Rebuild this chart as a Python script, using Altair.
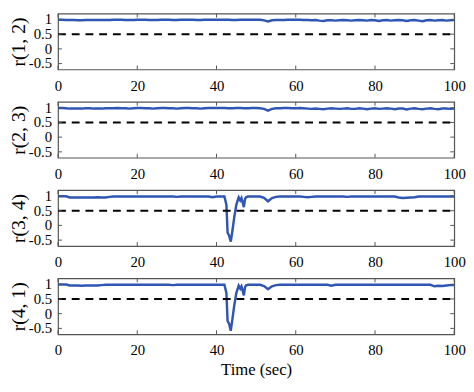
import altair as alt
import pandas as pd

# ---------------- data ----------------
t_full = list(range(0, 101))

r12 = [0.99, 0.99, 0.98, 0.98, 0.98, 0.97, 0.97, 0.98, 0.98, 0.98,
       0.98, 0.98, 0.98, 0.98, 0.99, 0.99, 0.99, 0.98, 0.98, 0.98,
       0.99, 0.99, 0.99, 0.98, 0.98, 0.98, 0.99, 0.99, 0.99, 0.98,
       0.98, 0.99, 0.99, 0.99, 0.99, 0.98, 0.98, 0.99, 0.99, 0.99,
       0.99, 0.99, 0.99, 0.99, 0.98, 0.98, 0.99, 0.99, 0.99, 0.99,
       0.99, 0.99, 0.97, 0.93, 0.97, 0.98, 0.98, 0.98, 0.99, 0.99,
       0.99, 0.99, 0.98, 0.98, 0.97, 0.98, 0.96, 0.95, 0.97, 0.97,
       0.96, 0.97, 0.98, 0.97, 0.96, 0.97, 0.98, 0.97, 0.96, 0.98,
       0.97, 0.95, 0.97, 0.98, 0.96, 0.97, 0.98, 0.97, 0.95, 0.97,
       0.98, 0.96, 0.94, 0.97, 0.98, 0.96, 0.97, 0.98, 0.96, 0.97, 0.98]

r23 = [0.99, 0.99, 0.98, 0.97, 0.97, 0.97, 0.97, 0.98, 0.98, 0.97,
       0.97, 0.97, 0.98, 0.98, 0.98, 0.99, 0.98, 0.98, 0.97, 0.98,
       0.99, 0.99, 0.98, 0.98, 0.97, 0.98, 0.99, 0.99, 0.98, 0.98,
       0.97, 0.98, 0.99, 0.99, 0.98, 0.98, 0.97, 0.98, 0.99, 0.99,
       0.99, 0.99, 0.99, 0.98, 0.98, 0.99, 0.99, 0.98, 0.98, 0.99,
       0.99, 0.98, 0.96, 0.90, 0.96, 0.98, 0.98, 0.99, 0.99, 0.98,
       0.98, 0.99, 0.98, 0.97, 0.96, 0.97, 0.96, 0.95, 0.97, 0.98,
       0.97, 0.96, 0.97, 0.98, 0.96, 0.96, 0.98, 0.97, 0.95, 0.97,
       0.98, 0.96, 0.97, 0.98, 0.97, 0.95, 0.97, 0.97, 0.94, 0.97,
       0.98, 0.96, 0.95, 0.97, 0.98, 0.96, 0.95, 0.97, 0.97, 0.96, 0.97]

t_dip = ([float(v) for v in range(0, 43)]
         + [42.5, 42.8, 43.2, 43.6, 44.0, 44.5, 45.0, 45.6, 46.0, 46.3, 46.6, 46.9, 47.2, 47.5]
         + [float(v) for v in range(48, 101)])

r34 = ([0.99, 0.99, 0.99, 0.95, 0.95, 0.95, 0.95, 0.95, 0.95, 0.95,
        0.96, 0.95, 0.95, 0.97, 0.98, 0.98, 0.98, 0.98, 0.98, 0.98,
        0.98, 0.98, 0.98, 0.98, 0.98, 0.98, 0.98, 0.98, 0.98, 0.98,
        0.97, 0.98, 0.98, 0.98, 0.98, 0.98, 0.98, 0.98, 0.98, 0.96,
        0.98, 0.98, 0.98]
       + [0.70, -0.25, -0.35, -0.55, -0.20, 0.30, 0.70, 0.95, 0.85, 0.93, 0.78, 0.62, 0.90, 0.96]
       + [0.98, 0.98, 0.98, 0.98, 0.94, 0.82, 0.93, 0.97, 0.98, 0.98,
          0.98, 0.98, 0.98, 0.98, 0.97, 0.96, 0.97, 0.98, 0.98, 0.98,
          0.98, 0.98, 0.98, 0.98, 0.98, 0.97, 0.98, 0.98, 0.98, 0.98,
          0.98, 0.98, 0.98, 0.98, 0.98, 0.98, 0.98, 0.98, 0.95, 0.93,
          0.94, 0.95, 0.96, 0.98, 0.98, 0.98, 0.98, 0.98, 0.98, 0.98,
          0.98, 0.98, 0.98])

r41 = ([0.99, 0.99, 0.99, 0.96, 0.96, 0.96, 0.95, 0.96, 0.96, 0.96,
        0.96, 0.97, 0.98, 0.98, 0.98, 0.98, 0.98, 0.98, 0.98, 0.98,
        0.98, 0.98, 0.98, 0.98, 0.98, 0.98, 0.98, 0.98, 0.98, 0.97,
        0.98, 0.98, 0.98, 0.98, 0.98, 0.98, 0.98, 0.98, 0.98, 0.98,
        0.98, 0.98, 0.98]
       + [0.70, -0.25, -0.35, -0.58, -0.20, 0.30, 0.70, 0.95, 0.85, 0.93, 0.78, 0.62, 0.90, 0.96]
       + [0.98, 0.98, 0.98, 0.98, 0.94, 0.83, 0.93, 0.97, 0.98, 0.98,
          0.98, 0.98, 0.98, 0.98, 0.98, 0.98, 0.98, 0.98, 0.98, 0.98,
          0.98, 0.95, 0.98, 0.98, 0.98, 0.98, 0.98, 0.98, 0.98, 0.98,
          0.98, 0.98, 0.98, 0.98, 0.98, 0.98, 0.98, 0.98, 0.98, 0.98,
          0.98, 0.98, 0.98, 0.98, 0.98, 0.98, 0.98, 0.93, 0.95, 0.94,
          0.96, 0.97, 0.97])

panels = [("r(1, 2)", t_full, r12),
          ("r(2, 3)", t_full, r23),
          ("r(3, 4)", t_dip, r34),
          ("r(4, 1)", t_dip, r41)]

x_ticks = [0, 20, 40, 60, 80, 100]
y_ticks = [-0.5, 0, 0.5, 1]
y_tick_labels = ["-0.5", "0", "0.5", "1"]
threshold = [0.5]

W, H = 404, 57
FONT = "Liberation Serif"
BLUE = "#2f56b4"
FRAME = "#555555"

xscale = alt.Scale(domain=[0, 100], nice=False)
yscale = alt.Scale(domain=[-0.7, 1.2], nice=False)


def panel(title, tt, rr, last):
    df = pd.DataFrame({"t": tt, "r": rr})
    xt = pd.DataFrame({"t": x_ticks})
    yt = pd.DataFrame({"r": y_ticks, "lab": y_tick_labels})
    th = pd.DataFrame({"r": threshold})

    xaxis = alt.Axis(values=x_ticks, labelPadding=9, labelFontSize=15,
                     labelOverlap=False,
                     title="Time (sec)" if last else None,
                     titleFontSize=17, titlePadding=4)
    yaxis = alt.Axis(values=y_ticks, labels=False,
                     title=title, titleFontSize=20, titlePadding=30)

    line = alt.Chart(df).mark_line(color=BLUE, strokeWidth=2.5).encode(
        x=alt.X("t:Q", scale=xscale, axis=xaxis),
        y=alt.Y("r:Q", scale=yscale, axis=yaxis),
    )
    dash = alt.Chart(th).mark_rule(color="black", strokeWidth=2, strokeDash=[8, 6]).encode(
        y=alt.Y("r:Q", scale=yscale),
        x=alt.value(0), x2=alt.value(W),
    )
    xt_bot = alt.Chart(xt).mark_rule(color=FRAME, strokeWidth=1).encode(
        x=alt.X("t:Q", scale=xscale), y=alt.value(H), y2=alt.value(H - 4))
    xt_top = alt.Chart(xt).mark_rule(color=FRAME, strokeWidth=1).encode(
        x=alt.X("t:Q", scale=xscale), y=alt.value(0), y2=alt.value(4))
    yt_left = alt.Chart(yt).mark_rule(color=FRAME, strokeWidth=1).encode(
        y=alt.Y("r:Q", scale=yscale), x=alt.value(0), x2=alt.value(4))
    yt_right = alt.Chart(yt).mark_rule(color=FRAME, strokeWidth=1).encode(
        y=alt.Y("r:Q", scale=yscale), x=alt.value(W), x2=alt.value(W - 4))
    ylabels = alt.Chart(yt).mark_text(
        align="right", baseline="middle", font=FONT, fontSize=15, color="black", dx=-6
    ).encode(
        y=alt.Y("r:Q", scale=yscale), x=alt.value(0), text="lab:N")

    return alt.layer(line, dash, xt_bot, xt_top, yt_left, yt_right, ylabels).properties(
        width=W, height=H)


charts = [panel(ti, tt, rr, i == len(panels) - 1) for i, (ti, tt, rr) in enumerate(panels)]

chart = alt.vconcat(*charts, spacing=6, padding=0, background="white").configure_view(
    stroke=FRAME, strokeWidth=1.2
).configure_axis(
    ticks=False, domain=False, grid=False,
    labelFont=FONT, labelColor="black",
    labelFlush=False, labelOverlap=False, labelBound=False,
    titleFont=FONT, titleFontWeight="normal", titleColor="black",
)

chart.save("out.html", embed_options={"renderer": "svg", "actions": False})
